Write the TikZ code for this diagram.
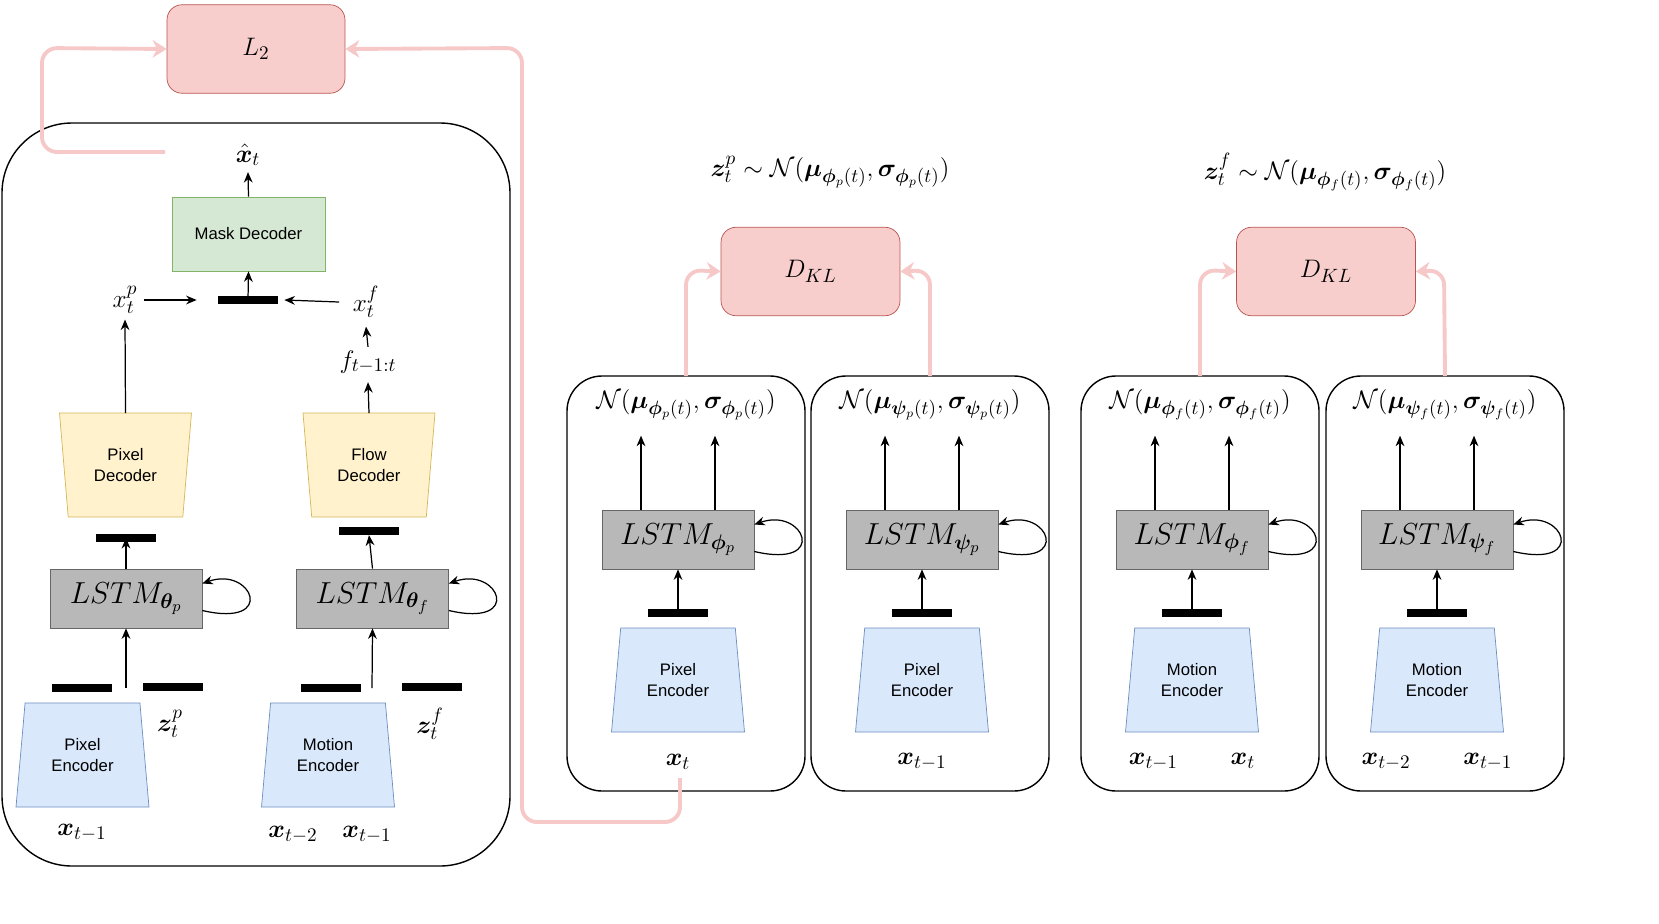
\documentclass[tikz,border=0pt]{standalone}
\usepackage{fontspec}
\usepackage{bm}
\newfontfamily\sansf{Liberation Sans}
\usetikzlibrary{arrows.meta,shapes.geometric}
\definecolor{pinkf}{HTML}{F8CECC}\definecolor{pinkd}{HTML}{B85450}
\definecolor{pinkl}{RGB}{246,200,200}
\definecolor{grnf}{HTML}{D5E8D4}\definecolor{grnd}{HTML}{82B366}
\definecolor{yelf}{HTML}{FFF2CC}\definecolor{yeld}{HTML}{D6B656}
\definecolor{bluf}{HTML}{DAE8FC}\definecolor{blud}{HTML}{6C8EBF}
\begin{document}
\begin{tikzpicture}[x=0.02cm,y=-0.02cm,
 arr/.style={-{Stealth[length=6pt,width=5pt]},line width=0.7pt},
 parr/.style={-{Stealth[length=8pt,width=10pt]},draw=pinkl,line width=2.2pt,rounded corners=0.3cm},
 loss/.style={rounded corners=0.3cm,fill=pinkf,draw=pinkd,minimum width=3.56cm,minimum height=1.77cm,font=\fontsize{15}{18}\selectfont},
 lstm/.style={fill=black!28,draw=black!60,minimum width=3.04cm,minimum height=1.18cm,font=\fontsize{18}{20}\selectfont},
 bar/.style={fill=black,minimum width=1.2cm,minimum height=0.15cm,inner sep=0pt},
 sf/.style={font=\sansf\fontsize{9.5}{11.5}\selectfont,align=center},
 enc/.style={trapezium,trapezium stretches body,trapezium angle=74.4,minimum width=2.66cm,minimum height=2.08cm,inner sep=0pt,fill=bluf,draw=blud,sf},
 dec/.style={trapezium,trapezium stretches body,trapezium angle=75,shape border rotate=180,minimum width=2.64cm,minimum height=2.08cm,inner sep=0pt,fill=yelf,draw=yeld,sf},
 mth/.style={font=\fontsize{15}{18}\selectfont},
 cont/.style={draw=black,line width=0.8pt}]
\useasboundingbox (0,0) rectangle (1659,923);
% left block
\draw[cont,rounded corners=1.4cm] (2,123) rectangle (510,866);
\node[loss] (L2) at (256,49) {$L_2$};
\node[mth] (xhat) at (248,155) {$\hat{\bm{x}}_t$};
\node[fill=grnf,draw=grnd,minimum width=3.06cm,minimum height=1.48cm,sf] (mask) at (248.5,234) {Mask Decoder};
\node[bar] (barm) at (248,300) {};
\node[mth] (xp) at (125,300) {$x_t^p$};
\node[mth] (xf) at (366,302) {$x_t^f$};
\node[mth] (ff) at (368,362) {$f_{t-1:t}$};
\node[dec] (pdec) at (125.5,465) {Pixel\\Decoder};
\node[dec] (fdec) at (369,465) {Flow\\Decoder};
\node[bar] (b1) at (126,538) {};
\node[bar] (b2) at (369,531) {};
\node[lstm] (l1) at (126,598.5) {$LSTM_{\bm{\theta}_p}$};
\node[lstm] (l2) at (372.5,598.5) {$LSTM_{\bm{\theta}_f}$};
\node[bar] (b3) at (82,688) {};
\node[bar] (b4) at (173,687) {};
\node[bar] (b5) at (331,688) {};
\node[bar] (b6) at (432,687) {};
\coordinate (c1) at (126,688);
\coordinate (c2) at (372,688);
\node[enc] (penc) at (82.5,755) {Pixel\\Encoder};
\node[enc] (menc) at (328,755) {Motion\\Encoder};
\node[mth] (zp) at (170,724) {$\bm{z}_t^p$};
\node[mth] (zf) at (430,724) {$\bm{z}_t^f$};
\node[mth] (xa) at (82,833) {$\bm{x}_{t-1}$};
\node[mth] (xb) at (293,835) {$\bm{x}_{t-2}$};
\node[mth] (xc) at (367,835) {$\bm{x}_{t-1}$};
\draw[arr] (mask.north) -- (xhat.south);
\draw[arr] (barm.center) -- (mask.south);
\draw[arr] (xp.east) -- ([xshift=-0.42cm]barm.west);
\draw[arr] ([xshift=-0.15cm]xf.west) -- ([xshift=0.12cm]barm.east);
\draw[arr] ([yshift=1.04cm]pdec.center) -- (xp.south);
\draw[arr] ([yshift=1.04cm]fdec.center) -- ([yshift=-0.05cm]ff.south);
\draw[arr] ([yshift=-0.05cm]ff.north) -- ([yshift=-0.05cm]xf.south);
\draw[arr] (l1.north) -- (b1.center);
\draw[arr] (l2.north) -- (b2.south);
\draw[arr] (c1) -- (l1.south);
\draw[arr] (c2) -- (l2.south);
\foreach \n in {l1,l2}
  \draw[arr] ([yshift=-0.24cm]\n.east) .. controls +(1.5cm,-0.35cm) and +(1.0cm,0.35cm) .. ([yshift=0.3cm]\n.east);
\coordinate (s1) at (165,152);
\draw[parr] (s1) -- (42,152) -- (42,48) -- (L2.west);
% titles
\node[mth] (t1) at (830,172) {$\bm{z}_t^p\sim\mathcal{N}(\bm{\mu}_{\bm{\phi}_p(t)},\bm{\sigma}_{\bm{\phi}_p(t)})$};
\node[mth] (t2) at (1325,172) {$\bm{z}_t^f\sim\mathcal{N}(\bm{\mu}_{\bm{\phi}_f(t)},\bm{\sigma}_{\bm{\phi}_f(t)})$};
\node[loss,minimum width=3.58cm] (d1) at (810.5,271.5) {$D_{KL}$};
\node[loss,minimum width=3.58cm] (d2) at (1326,271.5) {$D_{KL}$};
% panels
\foreach \o/\i/\s/\e/\ins in {0/1/{\bm{\phi}_p}/Pixel/{$\bm{x}_t$},
  244/2/{\bm{\psi}_p}/Pixel/{$\bm{x}_{t-1}$},
  514/3/{\bm{\phi}_f}/Motion/{$\bm{x}_{t-1}$\qquad$\bm{x}_t$},
  759/4/{\bm{\psi}_f}/Motion/{$\bm{x}_{t-2}$\qquad$\bm{x}_{t-1}$}}{
 \begin{scope}[xshift=\o*0.02cm]
 \draw[cont,rounded corners=0.7cm] (567,376) rectangle (805,791);
 \coordinate (top\i) at (686,376);
 \node[mth] (N\i) at (686,405) {$\mathcal{N}(\bm{\mu}_{\s(t)},\bm{\sigma}_{\s(t)})$};
 \node[lstm] (LS\i) at (678,539.5) {$LSTM_{\s}$};
 \node[bar] (B\i) at (678,613) {};
 \node[enc,trapezium angle=74.2] (E\i) at (678,680) {\e\\Encoder};
 \node[mth] (X\i) at (678,762) {\ins};
 \draw[arr] ([xshift=-0.74cm]LS\i.north) -- ++(0,1.48cm);
 \draw[arr] ([xshift=0.74cm]LS\i.north) -- ++(0,1.48cm);
 \draw[arr] (B\i.center) -- (LS\i.south);
 \draw[arr] ([yshift=-0.24cm]LS\i.east) .. controls +(1.5cm,-0.35cm) and +(1.0cm,0.35cm) .. ([yshift=0.3cm]LS\i.east);
 \end{scope}}
\draw[parr] (top1) -- (686,270) -- (d1.west);
\draw[parr] (top2) -- (930,270) -- (d1.east);
\draw[parr] (top3) -- (1200,270) -- (d2.west);
\draw[parr] (top4) -- (1444,270) -- (d2.east);
\coordinate (s2) at (680,778);
\draw[parr] (s2) -- (680,822) -- (522,822) -- (522,48) -- (L2.east);
\end{tikzpicture}
\end{document}
